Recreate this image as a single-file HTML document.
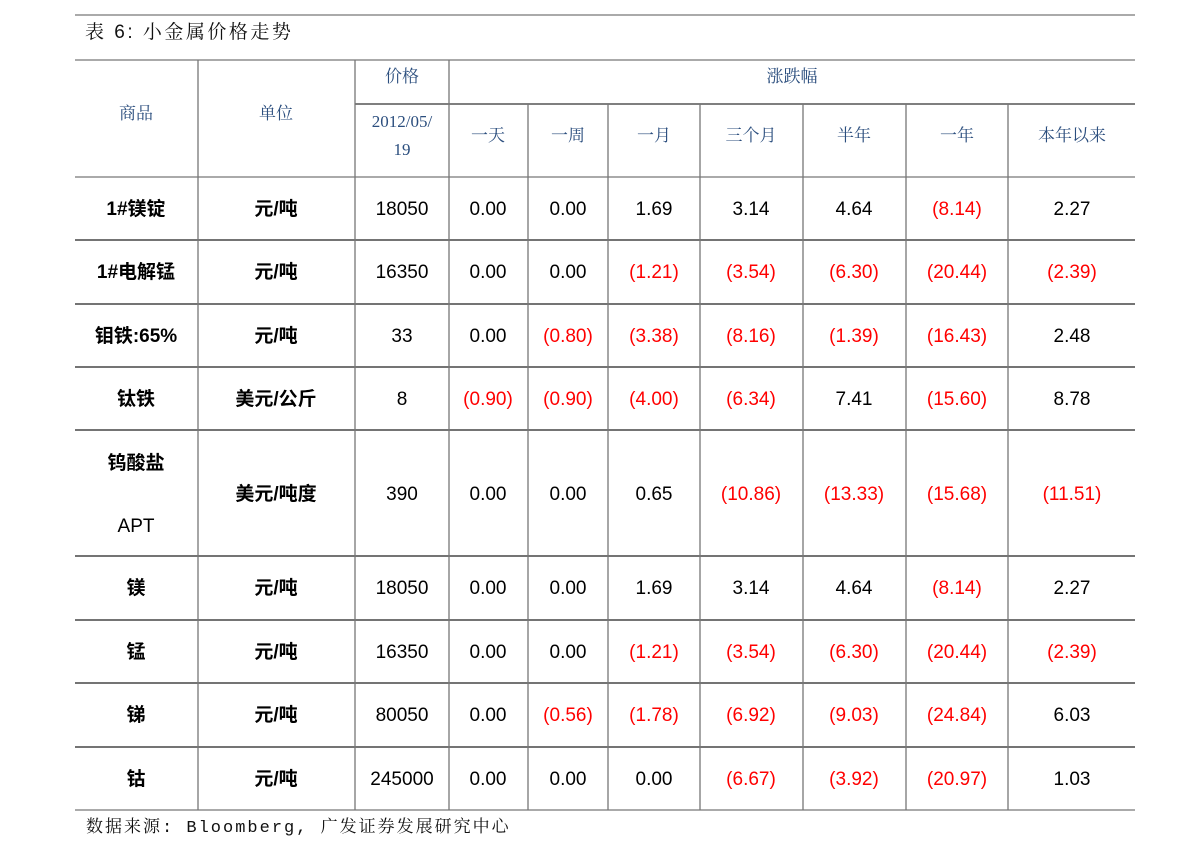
<!DOCTYPE html>
<html><head><meta charset="utf-8"><style>
html,body{margin:0;padding:0;background:#fff;width:1191px;height:856px;overflow:hidden}
.d{font-family:"Liberation Sans","Noto Sans CJK SC",sans-serif;font-size:19px;fill:#000}
.b{font-weight:bold}
.r{fill:#f00}
.h{font-family:"Liberation Serif","Noto Serif CJK SC",serif;font-size:17px;fill:#2b4e7e}
</style></head><body>
<svg width="1191" height="856" xmlns="http://www.w3.org/2000/svg">
<g stroke="#777" stroke-width="1.3">
<line x1="75" y1="15" x2="1135" y2="15"/>
<line x1="75" y1="60" x2="1135" y2="60"/>
<line x1="355" y1="104" x2="1135" y2="104" stroke="#333"/>
<line x1="75" y1="177" x2="1135" y2="177"/>
<line x1="75" y1="240" x2="1135" y2="240" stroke="#222"/>
<line x1="75" y1="304" x2="1135" y2="304" stroke="#222"/>
<line x1="75" y1="367" x2="1135" y2="367" stroke="#222"/>
<line x1="75" y1="430" x2="1135" y2="430" stroke="#222"/>
<line x1="75" y1="556" x2="1135" y2="556" stroke="#222"/>
<line x1="75" y1="620" x2="1135" y2="620" stroke="#222"/>
<line x1="75" y1="683" x2="1135" y2="683" stroke="#222"/>
<line x1="75" y1="747" x2="1135" y2="747" stroke="#222"/>
<line x1="75" y1="810" x2="1135" y2="810"/>
<line x1="198" y1="60" x2="198" y2="810"/>
<line x1="355" y1="60" x2="355" y2="810"/>
<line x1="449" y1="60" x2="449" y2="810"/>
<line x1="528" y1="104" x2="528" y2="810"/>
<line x1="608" y1="104" x2="608" y2="810"/>
<line x1="700" y1="104" x2="700" y2="810"/>
<line x1="803" y1="104" x2="803" y2="810"/>
<line x1="906" y1="104" x2="906" y2="810"/>
<line x1="1008" y1="104" x2="1008" y2="810"/>
</g>
<text x="85" y="38" style="font-family:'Liberation Sans','Noto Serif CJK SC',serif;font-size:19px;fill:#111;letter-spacing:2.5px">表 6:  小金属价格走势</text>
<g class="h" text-anchor="middle">
<text x="136" y="119">商品</text><text x="276" y="119">单位</text>
<text x="402" y="82">价格</text><text x="792" y="82">涨跌幅</text>
<text x="402" y="127">2012/05/</text><text x="402" y="155">19</text>
<text x="488" y="141">一天</text><text x="568" y="141">一周</text><text x="654" y="141">一月</text>
<text x="751" y="141">三个月</text><text x="854" y="141">半年</text><text x="957" y="141">一年</text><text x="1072" y="141">本年以来</text>
</g>
<g class="d" text-anchor="middle">
<text class="b" x="136" y="215">1#镁锭</text><text class="b" x="276" y="215">元/吨</text><text x="402" y="215">18050</text><text x="488" y="215">0.00</text><text x="568" y="215">0.00</text><text x="654" y="215">1.69</text><text x="751" y="215">3.14</text><text x="854" y="215">4.64</text><text class="r" x="957" y="215">(8.14)</text><text x="1072" y="215">2.27</text>
<text class="b" x="136" y="278">1#电解锰</text><text class="b" x="276" y="278">元/吨</text><text x="402" y="278">16350</text><text x="488" y="278">0.00</text><text x="568" y="278">0.00</text><text class="r" x="654" y="278">(1.21)</text><text class="r" x="751" y="278">(3.54)</text><text class="r" x="854" y="278">(6.30)</text><text class="r" x="957" y="278">(20.44)</text><text class="r" x="1072" y="278">(2.39)</text>
<text class="b" x="136" y="342">钼铁:65%</text><text class="b" x="276" y="342">元/吨</text><text x="402" y="342">33</text><text x="488" y="342">0.00</text><text class="r" x="568" y="342">(0.80)</text><text class="r" x="654" y="342">(3.38)</text><text class="r" x="751" y="342">(8.16)</text><text class="r" x="854" y="342">(1.39)</text><text class="r" x="957" y="342">(16.43)</text><text x="1072" y="342">2.48</text>
<text class="b" x="136" y="405">钛铁</text><text class="b" x="276" y="405">美元/公斤</text><text x="402" y="405">8</text><text class="r" x="488" y="405">(0.90)</text><text class="r" x="568" y="405">(0.90)</text><text class="r" x="654" y="405">(4.00)</text><text class="r" x="751" y="405">(6.34)</text><text x="854" y="405">7.41</text><text class="r" x="957" y="405">(15.60)</text><text x="1072" y="405">8.78</text>
<text class="b" x="136" y="469">钨酸盐</text><text x="136" y="532">APT</text><text class="b" x="276" y="500">美元/吨度</text><text x="402" y="500">390</text><text x="488" y="500">0.00</text><text x="568" y="500">0.00</text><text x="654" y="500">0.65</text><text class="r" x="751" y="500">(10.86)</text><text class="r" x="854" y="500">(13.33)</text><text class="r" x="957" y="500">(15.68)</text><text class="r" x="1072" y="500">(11.51)</text>
<text class="b" x="136" y="594">镁</text><text class="b" x="276" y="594">元/吨</text><text x="402" y="594">18050</text><text x="488" y="594">0.00</text><text x="568" y="594">0.00</text><text x="654" y="594">1.69</text><text x="751" y="594">3.14</text><text x="854" y="594">4.64</text><text class="r" x="957" y="594">(8.14)</text><text x="1072" y="594">2.27</text>
<text class="b" x="136" y="658">锰</text><text class="b" x="276" y="658">元/吨</text><text x="402" y="658">16350</text><text x="488" y="658">0.00</text><text x="568" y="658">0.00</text><text class="r" x="654" y="658">(1.21)</text><text class="r" x="751" y="658">(3.54)</text><text class="r" x="854" y="658">(6.30)</text><text class="r" x="957" y="658">(20.44)</text><text class="r" x="1072" y="658">(2.39)</text>
<text class="b" x="136" y="721">锑</text><text class="b" x="276" y="721">元/吨</text><text x="402" y="721">80050</text><text x="488" y="721">0.00</text><text class="r" x="568" y="721">(0.56)</text><text class="r" x="654" y="721">(1.78)</text><text class="r" x="751" y="721">(6.92)</text><text class="r" x="854" y="721">(9.03)</text><text class="r" x="957" y="721">(24.84)</text><text x="1072" y="721">6.03</text>
<text class="b" x="136" y="785">钴</text><text class="b" x="276" y="785">元/吨</text><text x="402" y="785">245000</text><text x="488" y="785">0.00</text><text x="568" y="785">0.00</text><text x="654" y="785">0.00</text><text class="r" x="751" y="785">(6.67)</text><text class="r" x="854" y="785">(3.92)</text><text class="r" x="957" y="785">(20.97)</text><text x="1072" y="785">1.03</text>
</g>
<text x="86" y="832" style="font-family:'Liberation Mono','Noto Serif CJK SC',monospace;font-size:17px;fill:#111;letter-spacing:2px">数据来源: Bloomberg, 广发证券发展研究中心</text>
</svg>
</body></html>
